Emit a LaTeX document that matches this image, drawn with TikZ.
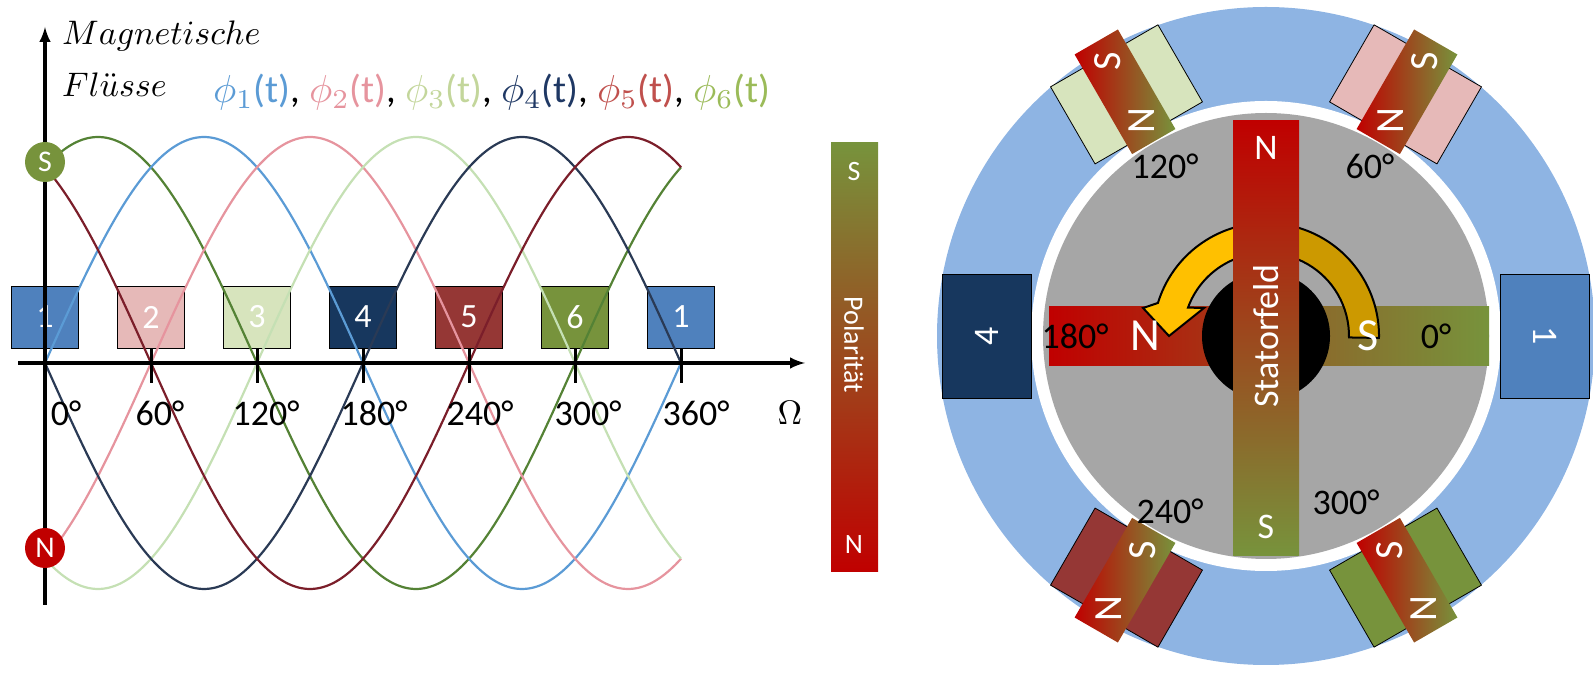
\documentclass[tikz,border=0pt]{standalone}
\usepackage{fontspec}
\setmainfont{Carlito}
\begin{document}
\begin{tikzpicture}[x=1pt,y=1pt,
  bx/.style={draw=black,line width=0.8pt,minimum width=67pt,minimum height=62pt,inner sep=0pt,text=white,font=\fontsize{34}{34}\selectfont},
  deg/.style={font=\fontsize{36}{36}\selectfont,inner sep=0pt},
  rdeg/.style={font=\fontsize{36}{36}\selectfont,inner sep=0pt},
  curve/.style={line width=2.2pt,domain=0:360,samples=120,smooth},
  wl/.style={text=white,inner sep=0pt}]
\definecolor{c1}{HTML}{4F81BD}\definecolor{c2}{HTML}{E6B9B8}\definecolor{c3}{HTML}{D7E4BD}
\definecolor{c4}{HTML}{17375E}\definecolor{c5}{HTML}{953735}\definecolor{c6}{HTML}{77933C}
\definecolor{k1}{HTML}{5B9BD5}\definecolor{k2}{HTML}{E6949E}\definecolor{k3}{HTML}{C5E0B4}
\definecolor{k4}{HTML}{2A3A55}\definecolor{k5}{HTML}{7B1E2A}\definecolor{k6}{HTML}{548235}
\definecolor{l2}{HTML}{E6949E}\definecolor{l3}{HTML}{C3D69B}\definecolor{l4}{HTML}{1F3864}\definecolor{l5}{HTML}{C0504D}\definecolor{l6}{HTML}{9BBB59}
\definecolor{mred}{HTML}{C00000}\definecolor{mgrn}{HTML}{77933C}
\definecolor{ring}{HTML}{8EB4E3}\definecolor{gry}{HTML}{A6A6A6}
\definecolor{gold}{HTML}{CC9900}\definecolor{yel}{HTML}{FFC000}
\useasboundingbox (0,0) rectangle (1593,677);
% ---------- chart ----------
\foreach \i/\c/\n in {0/c1/1,1/c2/2,2/c3/3,3/c4/4,4/c5/5,5/c6/6,6/c1/1}
  \node[bx,fill=\c] (b\i) at ({45+106*\i},360) {\n};
\foreach \p/\c in {60/k6,0/k1,-60/k2,-120/k3,-180/k4,120/k5}
  \draw[curve,\c] plot ({45+1.7667*\x},{314+226*sin(\x+\p)});
\draw[line width=4pt,-latex] (45,72) -- (45,650) coordinate (ytop);
\draw[line width=4pt,-latex] (18,314) -- (805,314) coordinate (xend);
\foreach \i in {0,...,6}
  \draw[line width=3pt] ({45+106*\i},294) -- ({45+106*\i},329);
\foreach \x/\t in {66/0,160/60,266/120,374/180,480/240,588/300,696/360}
  \node[deg] at (\x,264) {\t°};
\node[inner sep=0pt] (om) at (790,264) {\scalebox{3.4}{$\Omega$}};
\node[circle,fill=c6,minimum size=40pt,inner sep=0pt,text=white,font=\fontsize{30}{30}\selectfont] (S) at (45,515) {S};
\node[circle,fill=mred,minimum size=40pt,inner sep=0pt,text=white,font=\fontsize{30}{30}\selectfont] (N) at (45,129) {N};
\node[anchor=west,inner sep=0pt] (lab1) at (62,641) {\scalebox{3.4}{$Magnetische$}};
\node[anchor=west,inner sep=0pt] (lab2) at (62,592) {\scalebox{3.4}{$Fl\ddot{u}sse$}};
\node[anchor=west,inner sep=0pt] (leg) at (213,585) {\scalebox{3.9}{\textcolor{k1}{$\phi_1$(t)}, \textcolor{l2}{$\phi_2$(t)}, \textcolor{l3}{$\phi_3$(t)}, \textcolor{l4}{$\phi_4$(t)}, \textcolor{l5}{$\phi_5$(t)}, \textcolor{l6}{$\phi_6$(t)}}};
% ---------- polarity bar ----------
\shade[top color=mgrn,bottom color=mred] (831,105) rectangle (878,534);
\node[wl,font=\fontsize{28}{28}\selectfont] (pS) at (854,505) {S};
\node[wl,font=\fontsize{28}{28}\selectfont] (pN) at (854,132) {N};
\node[wl,font=\fontsize{28}{28}\selectfont,rotate=-90] (pol) at (854,332) {Polarität};
% ---------- motor ----------
\coordinate (C) at (1266,341);
\fill[ring] (C) circle (329);
\fill[white] (C) circle (235);
\fill[gry] (C) circle (223);
% magnets
\foreach \a/\c/\r in {60/c2/60,120/c3/120,240/c5/60,300/c6/120}{
  \begin{scope}[shift={(C)},rotate=\a]
    \draw[fill=\c,line width=0.8pt] (234.5,-62) rectangle (323.5,62);
  \end{scope}
  \begin{scope}[shift={(C)},shift={(\a:282)},rotate=\r]
    \shade[left color=mred,right color=mgrn] (-57.5,-25) rectangle (57.5,25);
    \node[wl,font=\fontsize{40}{40}\selectfont,rotate=90] at (35,0) {S};
    \node[wl,font=\fontsize{40}{40}\selectfont,rotate=90] at (-33,0) {N};
  \end{scope}}
\node[draw=black,fill=c1,minimum width=89pt,minimum height=124pt,inner sep=0pt,line width=0.8pt] (m1) at (1545,341) {};
\node[text=white,rotate=-90,font=\fontsize{36}{36}\selectfont] at (m1) {1};
\node[draw=black,fill=c4,minimum width=89pt,minimum height=124pt,inner sep=0pt,line width=0.8pt] (m4) at (987,341) {};
\node[text=white,rotate=90,font=\fontsize{36}{36}\selectfont] at (m4) {4};
% horizontal bar
\shade[left color=mred,right color=mred!55!mgrn] (1049,311) rectangle (1266,370);
\shade[left color=mred!35!mgrn,right color=mgrn] (1266,311) rectangle (1489,370);
\fill[black] (C) circle (64);
% arrows
\draw[fill=gold,line width=2pt] ([shift={(C)}]-1:113) arc (-1:90:113) -- ([shift={(C)}]90:83) arc (90:-1:83) -- cycle;
\draw[fill=yel,line width=2pt,line join=miter] ([shift={(C)}]90:113) arc (90:163:113) -- (1143,369) -- (1169,341) -- (1204,369) -- ([shift={(C)}]160:83) arc (160:90:83) -- cycle;
% vertical bar
\shade[top color=mred,bottom color=mgrn] (1233,121) rectangle (1299,556);
\node[wl,font=\fontsize{36}{36}\selectfont] (vN) at (1266,529) {N};
\node[wl,font=\fontsize{36}{36}\selectfont] (vS) at (1266,150) {S};
\node[wl,font=\fontsize{36}{36}\selectfont,rotate=90] (sf) at (1266,341) {Statorfeld};
\node[wl,font=\fontsize{46}{46}\selectfont] (bN) at (1145,341) {N};
\node[wl,font=\fontsize{46}{46}\selectfont] (bS) at (1368,341) {S};
\node[rdeg] at (1165,511) {120°};
\node[rdeg] at (1370,511) {60°};
\node[rdeg] at (1075,341) {180°};
\node[rdeg] at (1436,341) {0°};
\node[rdeg] at (1170,166) {240°};
\node[rdeg] at (1346,175) {300°};
\end{tikzpicture}
\end{document}
